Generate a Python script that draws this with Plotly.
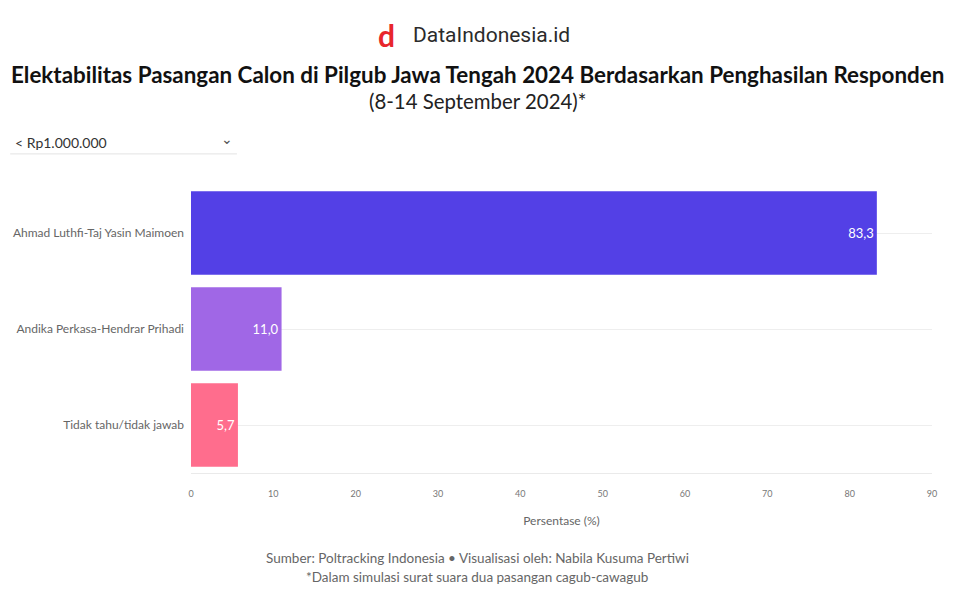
import plotly.graph_objects as go

# Data
pasangan = ['Ahmad Luthfi-Taj Yasin Maimoen', 'Andika Perkasa-Hendrar Prihadi', 'Tidak tahu/tidak jawab']
persentase = [83.3, 11.0, 5.7]
warna = ['#5340e6', '#a067e6', '#ff6d8d']
kelompok = '< Rp1.000.000'
x_ticks = [0, 10, 20, 30, 40, 50, 60, 70, 80, 90]

fig = go.Figure()
fig.add_trace(go.Bar(
    y=pasangan, x=persentase, orientation='h',
    marker=dict(color=warna, line=dict(width=0)),
    text=[f'{v:.1f}'.replace('.', ',') for v in persentase],
    textposition='inside', insidetextanchor='end',
    textfont=dict(color='white', size=13, family='Lato'),
    width=0.87, hoverinfo='skip'
))

fig.update_yaxes(autorange='reversed', showgrid=True, gridcolor='#eeeeee', automargin=False,
                 tickfont=dict(size=12, color='#666666'), ticks='', ticklabelstandoff=6,
                 showline=False, zeroline=False)
fig.update_xaxes(range=[0, 90], tickvals=x_ticks, showgrid=False, zeroline=False, automargin=False,
                 showline=True, linecolor='#eaeaea', linewidth=1,
                 tickfont=dict(size=9, color='#777777'), ticklabelstandoff=12,
                 title=dict(text='Persentase (%)', font=dict(size=12, color='#666666'), standoff=18))

# halaman punya tepi 8px, jadi margin digeser
fig.update_layout(
    width=954, height=596,
    margin=dict(l=183, r=30, t=177, b=131),
    plot_bgcolor='white', paper_bgcolor='white',
    font=dict(family='Lato', color='#333333'),
    showlegend=False,
    annotations=[
        # header
        dict(text='<b>d</b>', x=0.2645, y=1.521, xref='paper', yref='paper', xanchor='center', yanchor='middle',
             showarrow=False, font=dict(size=30, color='#e8262c', family='Lato')),
        dict(text='DataIndonesia.id', x=0.406, y=1.521, xref='paper', yref='paper', xanchor='center', yanchor='middle',
             showarrow=False, font=dict(size=21, color='#2b2b2b', family='Roboto')),
        dict(text='<b>Elektabilitas Pasangan Calon di Pilgub Jawa Tengah 2024 Berdasarkan Penghasilan Responden</b>',
             x=0.386, y=1.385, xref='paper', yref='paper', xanchor='center', yanchor='middle', showarrow=False,
             font=dict(size=22.4, color='#111111')),
        dict(text='(8-14 September 2024)*', x=0.386, y=1.292, xref='paper', yref='paper', xanchor='center',
             yanchor='middle', showarrow=False, font=dict(size=20.4, color='#222222')),
        # pilihan kelompok penghasilan
        dict(text=kelompok, x=-0.240, y=1.149, xref='paper', yref='paper', xanchor='left', yanchor='middle',
             showarrow=False, font=dict(size=14, color='#333333')),
        dict(text='⌄', x=0.0486, y=1.16, xref='paper', yref='paper', xanchor='center', yanchor='middle',
             showarrow=False, font=dict(size=14, color='#555555')),
        # footer
        dict(text='Sumber: Poltracking Indonesia • Visualisasi oleh: Nabila Kusuma Pertiwi',
             x=0.386, y=-0.295, xref='paper', yref='paper', xanchor='center', yanchor='middle', showarrow=False,
             font=dict(size=13.5, color='#666666')),
        dict(text='*Dalam simulasi surat suara dua pasangan cagub-cawagub',
             x=0.386, y=-0.361, xref='paper', yref='paper', xanchor='center', yanchor='middle', showarrow=False,
             font=dict(size=13.5, color='#666666')),
    ],
    shapes=[
        dict(type='line', xref='paper', yref='paper', x0=-0.244, x1=0.062, y0=1.108, y1=1.108,
             line=dict(color='#e3e3e3', width=1)),
    ],
)

fig.write_html('out.html')
